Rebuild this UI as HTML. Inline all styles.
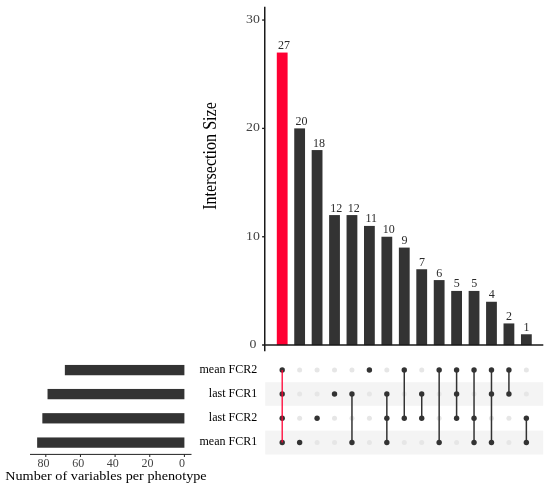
<!DOCTYPE html>
<html><head><meta charset="utf-8"><title>UpSet plot</title>
<style>html,body{margin:0;padding:0;background:#fff}svg{display:block}text{font-family:"Liberation Serif",serif}</style>
</head><body>
<svg width="550" height="488" viewBox="0 0 550 488">
<rect width="550" height="488" fill="#fff"/>
<rect x="265.2" y="382.2" width="278" height="23.6" fill="#f4f4f4"/>
<rect x="265.2" y="430.6" width="278" height="23.9" fill="#f4f4f4"/>
<rect x="276.80" y="52.56" width="10.8" height="292.55" fill="#ff0033"/>
<text x="284.00" y="49.06" font-size="12" text-anchor="middle" fill="#2b2b2b">27</text>
<rect x="294.24" y="128.40" width="10.8" height="216.70" fill="#333333"/>
<text x="301.44" y="124.90" font-size="12" text-anchor="middle" fill="#2b2b2b">20</text>
<rect x="311.68" y="150.07" width="10.8" height="195.03" fill="#333333"/>
<text x="318.88" y="146.57" font-size="12" text-anchor="middle" fill="#2b2b2b">18</text>
<rect x="329.12" y="215.08" width="10.8" height="130.02" fill="#333333"/>
<text x="336.32" y="211.58" font-size="12" text-anchor="middle" fill="#2b2b2b">12</text>
<rect x="346.56" y="215.08" width="10.8" height="130.02" fill="#333333"/>
<text x="353.76" y="211.58" font-size="12" text-anchor="middle" fill="#2b2b2b">12</text>
<rect x="364.00" y="225.92" width="10.8" height="119.19" fill="#333333"/>
<text x="371.20" y="222.42" font-size="12" text-anchor="middle" fill="#2b2b2b">11</text>
<rect x="381.44" y="236.75" width="10.8" height="108.35" fill="#333333"/>
<text x="388.64" y="233.25" font-size="12" text-anchor="middle" fill="#2b2b2b">10</text>
<rect x="398.88" y="247.59" width="10.8" height="97.52" fill="#333333"/>
<text x="404.48" y="244.09" font-size="12" text-anchor="middle" fill="#2b2b2b">9</text>
<rect x="416.32" y="269.25" width="10.8" height="75.85" fill="#333333"/>
<text x="421.92" y="265.75" font-size="12" text-anchor="middle" fill="#2b2b2b">7</text>
<rect x="433.76" y="280.09" width="10.8" height="65.01" fill="#333333"/>
<text x="439.36" y="276.59" font-size="12" text-anchor="middle" fill="#2b2b2b">6</text>
<rect x="451.20" y="290.93" width="10.8" height="54.18" fill="#333333"/>
<text x="456.80" y="287.43" font-size="12" text-anchor="middle" fill="#2b2b2b">5</text>
<rect x="468.64" y="290.93" width="10.8" height="54.18" fill="#333333"/>
<text x="474.24" y="287.43" font-size="12" text-anchor="middle" fill="#2b2b2b">5</text>
<rect x="486.08" y="301.76" width="10.8" height="43.34" fill="#333333"/>
<text x="491.68" y="298.26" font-size="12" text-anchor="middle" fill="#2b2b2b">4</text>
<rect x="503.52" y="323.43" width="10.8" height="21.67" fill="#333333"/>
<text x="509.12" y="319.93" font-size="12" text-anchor="middle" fill="#2b2b2b">2</text>
<rect x="520.96" y="334.27" width="10.8" height="10.83" fill="#333333"/>
<text x="526.56" y="330.77" font-size="12" text-anchor="middle" fill="#2b2b2b">1</text>
<line x1="264.75" y1="6.8" x2="264.75" y2="351.2" stroke="#1a1a1a" stroke-width="1.5"/>
<line x1="262.1" y1="345.1" x2="543.3" y2="345.1" stroke="#1a1a1a" stroke-width="1.5"/>
<line x1="262.1" y1="236.75" x2="265" y2="236.75" stroke="#1a1a1a" stroke-width="1.3"/>
<line x1="262.1" y1="128.40" x2="265" y2="128.40" stroke="#1a1a1a" stroke-width="1.3"/>
<line x1="262.1" y1="20.05" x2="265" y2="20.05" stroke="#1a1a1a" stroke-width="1.3"/>
<text x="253" y="348.10" font-size="13.5" text-anchor="middle" textLength="6.9" lengthAdjust="spacingAndGlyphs" fill="#444">0</text>
<text x="253" y="239.75" font-size="13.5" text-anchor="middle" textLength="13.8" lengthAdjust="spacingAndGlyphs" fill="#444">10</text>
<text x="253" y="131.40" font-size="13.5" text-anchor="middle" textLength="13.8" lengthAdjust="spacingAndGlyphs" fill="#444">20</text>
<text x="253" y="23.05" font-size="13.5" text-anchor="middle" textLength="13.8" lengthAdjust="spacingAndGlyphs" fill="#444">30</text>
<text transform="translate(215.5,156) rotate(-90)" font-size="19" text-anchor="middle" textLength="107.7" lengthAdjust="spacingAndGlyphs" fill="#000">Intersection Size</text>
<circle cx="299.64" cy="370" r="2.5" fill="#e6e6e6"/>
<circle cx="299.64" cy="394" r="2.5" fill="#e6e6e6"/>
<circle cx="299.64" cy="418.2" r="2.5" fill="#e6e6e6"/>
<circle cx="317.08" cy="370" r="2.5" fill="#e6e6e6"/>
<circle cx="317.08" cy="394" r="2.5" fill="#e6e6e6"/>
<circle cx="317.08" cy="442.5" r="2.5" fill="#e6e6e6"/>
<circle cx="334.52" cy="370" r="2.5" fill="#e6e6e6"/>
<circle cx="334.52" cy="418.2" r="2.5" fill="#e6e6e6"/>
<circle cx="334.52" cy="442.5" r="2.5" fill="#e6e6e6"/>
<circle cx="351.96" cy="370" r="2.5" fill="#e6e6e6"/>
<circle cx="351.96" cy="418.2" r="2.5" fill="#e6e6e6"/>
<circle cx="369.40" cy="394" r="2.5" fill="#e6e6e6"/>
<circle cx="369.40" cy="418.2" r="2.5" fill="#e6e6e6"/>
<circle cx="369.40" cy="442.5" r="2.5" fill="#e6e6e6"/>
<circle cx="386.84" cy="370" r="2.5" fill="#e6e6e6"/>
<circle cx="404.28" cy="394" r="2.5" fill="#e6e6e6"/>
<circle cx="404.28" cy="442.5" r="2.5" fill="#e6e6e6"/>
<circle cx="421.72" cy="370" r="2.5" fill="#e6e6e6"/>
<circle cx="421.72" cy="442.5" r="2.5" fill="#e6e6e6"/>
<circle cx="439.16" cy="394" r="2.5" fill="#e6e6e6"/>
<circle cx="439.16" cy="418.2" r="2.5" fill="#e6e6e6"/>
<circle cx="456.60" cy="442.5" r="2.5" fill="#e6e6e6"/>
<circle cx="474.04" cy="394" r="2.5" fill="#e6e6e6"/>
<circle cx="491.48" cy="418.2" r="2.5" fill="#e6e6e6"/>
<circle cx="508.92" cy="418.2" r="2.5" fill="#e6e6e6"/>
<circle cx="508.92" cy="442.5" r="2.5" fill="#e6e6e6"/>
<circle cx="526.36" cy="370" r="2.5" fill="#e6e6e6"/>
<circle cx="526.36" cy="394" r="2.5" fill="#e6e6e6"/>
<circle cx="282.20" cy="370" r="2.7" fill="#333333"/>
<circle cx="282.20" cy="394" r="2.7" fill="#333333"/>
<circle cx="282.20" cy="418.2" r="2.7" fill="#333333"/>
<circle cx="282.20" cy="442.5" r="2.7" fill="#333333"/>
<line x1="282.20" y1="370" x2="282.20" y2="442.5" stroke="#ff0033" stroke-width="1.3"/>
<circle cx="299.64" cy="442.5" r="2.7" fill="#333333"/>
<circle cx="317.08" cy="418.2" r="2.7" fill="#333333"/>
<circle cx="334.52" cy="394" r="2.7" fill="#333333"/>
<line x1="351.96" y1="394" x2="351.96" y2="442.5" stroke="#333333" stroke-width="1.5"/>
<circle cx="351.96" cy="394" r="2.7" fill="#333333"/>
<circle cx="351.96" cy="442.5" r="2.7" fill="#333333"/>
<circle cx="369.40" cy="370" r="2.7" fill="#333333"/>
<line x1="386.84" y1="394" x2="386.84" y2="442.5" stroke="#333333" stroke-width="1.5"/>
<circle cx="386.84" cy="394" r="2.7" fill="#333333"/>
<circle cx="386.84" cy="418.2" r="2.7" fill="#333333"/>
<circle cx="386.84" cy="442.5" r="2.7" fill="#333333"/>
<line x1="404.28" y1="370" x2="404.28" y2="418.2" stroke="#333333" stroke-width="1.5"/>
<circle cx="404.28" cy="370" r="2.7" fill="#333333"/>
<circle cx="404.28" cy="418.2" r="2.7" fill="#333333"/>
<line x1="421.72" y1="394" x2="421.72" y2="418.2" stroke="#333333" stroke-width="1.5"/>
<circle cx="421.72" cy="394" r="2.7" fill="#333333"/>
<circle cx="421.72" cy="418.2" r="2.7" fill="#333333"/>
<line x1="439.16" y1="370" x2="439.16" y2="442.5" stroke="#333333" stroke-width="1.5"/>
<circle cx="439.16" cy="370" r="2.7" fill="#333333"/>
<circle cx="439.16" cy="442.5" r="2.7" fill="#333333"/>
<line x1="456.60" y1="370" x2="456.60" y2="418.2" stroke="#333333" stroke-width="1.5"/>
<circle cx="456.60" cy="370" r="2.7" fill="#333333"/>
<circle cx="456.60" cy="394" r="2.7" fill="#333333"/>
<circle cx="456.60" cy="418.2" r="2.7" fill="#333333"/>
<line x1="474.04" y1="370" x2="474.04" y2="442.5" stroke="#333333" stroke-width="1.5"/>
<circle cx="474.04" cy="370" r="2.7" fill="#333333"/>
<circle cx="474.04" cy="418.2" r="2.7" fill="#333333"/>
<circle cx="474.04" cy="442.5" r="2.7" fill="#333333"/>
<line x1="491.48" y1="370" x2="491.48" y2="442.5" stroke="#333333" stroke-width="1.5"/>
<circle cx="491.48" cy="370" r="2.7" fill="#333333"/>
<circle cx="491.48" cy="394" r="2.7" fill="#333333"/>
<circle cx="491.48" cy="442.5" r="2.7" fill="#333333"/>
<line x1="508.92" y1="370" x2="508.92" y2="394" stroke="#333333" stroke-width="1.5"/>
<circle cx="508.92" cy="370" r="2.7" fill="#333333"/>
<circle cx="508.92" cy="394" r="2.7" fill="#333333"/>
<line x1="526.36" y1="418.2" x2="526.36" y2="442.5" stroke="#333333" stroke-width="1.5"/>
<circle cx="526.36" cy="418.2" r="2.7" fill="#333333"/>
<circle cx="526.36" cy="442.5" r="2.7" fill="#333333"/>
<text x="257.2" y="372.90" font-size="12" text-anchor="end" fill="#000">mean FCR2</text>
<text x="257.2" y="396.90" font-size="12" text-anchor="end" fill="#000">last FCR1</text>
<text x="257.2" y="421.10" font-size="12" text-anchor="end" fill="#000">last FCR2</text>
<text x="257.2" y="445.40" font-size="12" text-anchor="end" fill="#000">mean FCR1</text>
<rect x="64.86" y="364.95" width="119.54" height="10.3" fill="#333333"/>
<rect x="47.53" y="388.95" width="136.87" height="10.3" fill="#333333"/>
<rect x="42.34" y="413.15" width="142.06" height="10.3" fill="#333333"/>
<rect x="37.14" y="437.45" width="147.26" height="10.3" fill="#333333"/>
<line x1="30" y1="454.4" x2="191.5" y2="454.4" stroke="#222" stroke-width="1"/>
<line x1="184.40" y1="454.4" x2="184.40" y2="457" stroke="#222" stroke-width="1"/>
<text x="182.10" y="467.3" font-size="12" text-anchor="middle" fill="#444">0</text>
<line x1="149.75" y1="454.4" x2="149.75" y2="457" stroke="#222" stroke-width="1"/>
<text x="147.45" y="467.3" font-size="12" text-anchor="middle" fill="#444">20</text>
<line x1="115.10" y1="454.4" x2="115.10" y2="457" stroke="#222" stroke-width="1"/>
<text x="112.80" y="467.3" font-size="12" text-anchor="middle" fill="#444">40</text>
<line x1="80.45" y1="454.4" x2="80.45" y2="457" stroke="#222" stroke-width="1"/>
<text x="78.15" y="467.3" font-size="12" text-anchor="middle" fill="#444">60</text>
<line x1="45.80" y1="454.4" x2="45.80" y2="457" stroke="#222" stroke-width="1"/>
<text x="43.50" y="467.3" font-size="12" text-anchor="middle" fill="#444">80</text>
<text x="5.2" y="480" font-size="13.5" textLength="201.5" lengthAdjust="spacingAndGlyphs" fill="#000">Number of variables per phenotype</text>
</svg></body></html>
